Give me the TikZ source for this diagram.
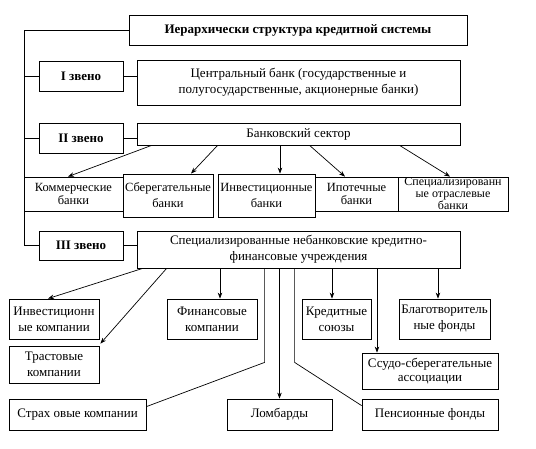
\documentclass[tikz,border=0pt]{standalone}
\usepackage{fontspec}
\setmainfont{Liberation Serif}
\usetikzlibrary{arrows.meta}
\begin{document}
\begin{tikzpicture}[x=1pt,y=-1pt,
  box/.style={draw,line width=0.8pt,rectangle,align=center,inner sep=0pt,
    font=\fontsize{13}{16}\selectfont},
  bbox/.style={box,font=\fontsize{13}{16}\selectfont\bfseries},
  conn/.style={line width=0.7pt},
  arr/.style={line width=0.7pt,-{Stealth[length=6pt,width=4.5pt]}}]
\useasboundingbox[fill=white] (0,0) rectangle (536,448);
% level boxes
\node[bbox,minimum width=338pt,minimum height=30pt] (title) at (298,30) {Иерархически структура кредитной системы};
\node[bbox,minimum width=84pt,minimum height=30pt] (z1) at (81,76) {I звено};
\node[box,minimum width=323pt,minimum height=45pt] (cb) at (298.5,82.5) {Центральный банк (государственные и\\полугосударственные, акционерные банки)};
\node[bbox,minimum width=84pt,minimum height=30pt] (z2) at (81,138) {II звено};
\node[box,minimum width=323pt,minimum height=22pt] (bs) at (298.5,134) {Банковский сектор};
% banks
\node[box,minimum width=99pt,minimum height=34pt,font=\fontsize{12.5}{13}\selectfont] (kom) at (73.5,194) {Коммерческие\\банки};
\node[box,minimum width=90pt,minimum height=43pt,font=\fontsize{12.5}{16}\selectfont] (sber) at (168,195.5) {Сберегательные\\банки};
\node[box,minimum width=97pt,minimum height=43pt,font=\fontsize{12.5}{16}\selectfont] (inv) at (266.5,195.5) {Инвестиционные\\банки};
\node[box,minimum width=83pt,minimum height=34pt,font=\fontsize{12.5}{13}\selectfont] (ipot) at (356.5,194) {Ипотечные\\банки};
\node[box,minimum width=110pt,minimum height=34pt,font=\fontsize{12}{12}\selectfont] (spec) at (453,194) {Специализированн\\ые отраслевые\\банки};
% level III
\node[bbox,minimum width=84pt,minimum height=29pt] (z3) at (81,245.5) {III звено};
\node[box,minimum width=323pt,minimum height=37pt] (snb) at (298.5,249.5) {Специализированные небанковские кредитно-\\финансовые учреждения};
\node[box,minimum width=90pt,minimum height=40pt] (invk) at (54,319) {Инвестиционн\\ые компании};
\node[box,minimum width=90pt,minimum height=40pt] (fin) at (212,319) {Финансовые\\компании};
\node[box,minimum width=69pt,minimum height=40pt] (kred) at (336.5,319) {Кредитные\\союзы};
\node[box,minimum width=91pt,minimum height=40pt] (blago) at (444.5,319) {Благотворитель\\ные фонды};
\node[box,minimum width=90pt,minimum height=37pt] (trust) at (54,364.5) {Трастовые\\компании};
\node[box,minimum width=136pt,minimum height=36pt,font=\fontsize{13}{14}\selectfont] (ssudo) at (430,371) {Ссудо-сберегательные\\ассоциации};
\node[box,minimum width=137pt,minimum height=31pt] (strakh) at (77.5,414.5) {Страх овые компании};
\node[box,minimum width=105pt,minimum height=31pt] (lomb) at (279.5,414.5) {Ломбарды};
\node[box,minimum width=136pt,minimum height=31pt] (pens) at (430,414.5) {Пенсионные фонды};
% spine
\coordinate (sp) at (24,29);
\draw[conn] (title.west) -- (title.west -| sp) -- (sp |- z3.west) -- (z3.west);
\draw[conn] (z1.west -| sp) -- (z1.west);
\draw[conn] (z2.west -| sp) -- (z2.west);
\draw[conn] (z1.east) -- (z1.east -| cb.west);
\draw[conn] (z2.east) -- (z2.east -| bs.west);
\draw[conn] (z3.east) -- (z3.east -| snb.west);
% bank arrows
\draw[arr] ([xshift=15pt]bs.south west) -- ([xshift=-5.5pt]kom.north);
\draw[arr] ([xshift=81pt]bs.south west) -- ([xshift=23pt]sber.north);
\draw[arr] ([xshift=13.5pt]inv.north |- bs.south) -- ([xshift=13.5pt]inv.north);
\draw[arr] ([xshift=173pt]bs.south west) -- ([xshift=-11.5pt]ipot.north);
\draw[arr] ([xshift=263pt]bs.south west) -- ([xshift=-3pt]spec.north);
% non-bank arrows
\draw[arr] ([xshift=6pt]snb.south west) -- ([xshift=-6pt]invk.north);
\draw[arr] ([xshift=30pt]snb.south west) -- ([xshift=1pt,yshift=2pt]trust.north east);
\draw[arr] ([xshift=8pt]fin.north |- snb.south) -- ([xshift=8pt]fin.north);
\draw[conn] ([xshift=128pt]snb.south west) -- ++(0,94) -- ([yshift=-8pt]strakh.north east);
\draw[arr] (lomb.north |- snb.south) -- (lomb.north);
\draw[conn] ([xshift=158pt]snb.south west) -- ++(0,94) -- ([yshift=-7pt]pens.north west);
\draw[arr] ([xshift=-4.5pt]kred.north |- snb.south) -- ([xshift=-4.5pt]kred.north);
\draw[arr] ([xshift=-53pt]ssudo.north |- snb.south) -- ([xshift=-53pt]ssudo.north);
\draw[arr] ([xshift=-6.5pt]blago.north |- snb.south) -- ([xshift=-6.5pt]blago.north);
\end{tikzpicture}
\end{document}
